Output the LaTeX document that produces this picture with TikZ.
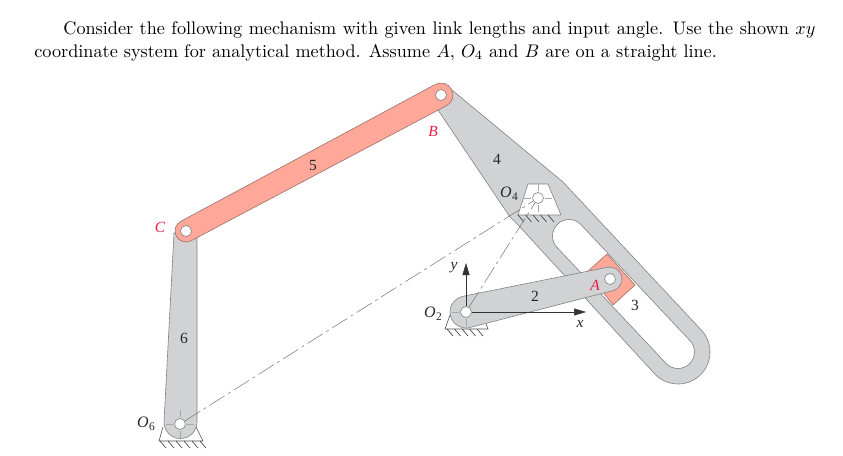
\documentclass[tikz,border=0pt]{standalone}
\usepackage{fontspec}
\newfontfamily\labfont{Liberation Serif}
\usetikzlibrary{calc,arrows.meta}
\definecolor{linkgray}{HTML}{D1D2D4}
\definecolor{edgegray}{HTML}{808285}
\definecolor{linkred}{HTML}{FFA899}
\definecolor{rededge}{HTML}{9A7068}
\definecolor{labred}{HTML}{EE1C44}
\newcommand{\subO}[1]{{\itshape O}\kern0.5pt\raisebox{-3pt}{\fontsize{11.5}{11.5}\selectfont #1}}
\tikzset{
  grayLink/.style={draw=edgegray,fill=linkgray,line width=0.6pt,line join=round},
  redLink/.style={draw=rededge,fill=linkred,line width=0.6pt,line join=round},
  pinHole/.style={circle,draw=edgegray,fill=white,line width=0.6pt,inner sep=0pt,minimum size=#1},
  frameLine/.style={draw=black!70,line width=0.6pt},
  hatchLine/.style={draw=black!80,line width=0.6pt},
  centerMark/.style={draw=edgegray!70,line width=0.5pt},
  centerLine/.style={draw=black!55,line width=0.5pt,dash pattern=on 18pt off 4pt on 3pt off 4pt},
  axisLine/.style={draw=black!80,line width=0.5pt,-{Triangle[length=12pt,width=7pt]}},
  linkNum/.style={font=\labfont\fontsize{15.5}{15.5}\selectfont,text=black!85,inner sep=0pt},
  pinName/.style={font=\labfont\fontsize{16}{16}\selectfont,text=black!85,inner sep=0pt},
  axisName/.style={font=\labfont\itshape\fontsize{15.5}{15.5}\selectfont,text=black!85,inner sep=0pt},
  jointName/.style={font=\labfont\itshape\fontsize{15.5}{15.5}\selectfont,text=labred,inner sep=0pt},
  prose/.style={scale=1.82,inner sep=0pt,anchor=base west}
}
\begin{document}
\begin{tikzpicture}[x=1pt,y=-1pt]
\useasboundingbox (0,0) rectangle (843,455);
% prose
\node[prose] (line1) at (63,34) {\makebox[413.2pt][s]{Consider the following mechanism with given link lengths and input angle. Use the shown $xy$}};
\node[prose] (line2) at (34,57) {coordinate system for analytical method. Assume $A$, $O_4$ and $B$ are on a straight line.};
% centres
\coordinate (O2) at (466,312);
\coordinate (O4) at (538,198);
\coordinate (O6) at (180,424);
\coordinate (A) at (610,279);
\coordinate (B) at (441,95);
\coordinate (C) at (186,231);
\coordinate (slotEnd) at (678,352);
\coordinate (slotTop) at (569,236);
\coordinate (yTip) at (466,263);
\coordinate (xTip) at (586,312);
% ground O6
\draw[frameLine] (163,427) -- (159,441) -- (203,441) -- (196,427);
\foreach \x in {160,168,...,200} \draw[hatchLine] (\x,441) -- (\x+6,448);
% ground O2
\draw[frameLine] (450,315) -- (445,329) -- (488,329) -- (486,324);
\foreach \x in {447,454.5,...,484} \draw[hatchLine] (\x,329) -- (\x+6,336);
% link 6
\draw[grayLink] (174,233) -- (164,422) arc[start angle=180,end angle=0,radius=16.5] -- (197,238) -- cycle;
% link 4 with link 3 slot
\draw[grayLink,even odd rule]
  (438,110) -- (452,90) -- (563,182) -- ($(slotEnd)+(-43.2:32)$)
  arc[start angle=-43.2,end angle=136.8,radius=32]
  -- (520,227) -- (510,217) -- cycle
  ($(slotTop)+(-43.2:16.5)$) -- ($(slotEnd)+(-43.2:16.5)$)
  arc[start angle=-43.2,end angle=136.8,radius=16.5]
  -- ($(slotTop)+(136.8:16.5)$)
  arc[start angle=136.8,end angle=316.8,radius=16.5] -- cycle;
% ground O4
\draw[frameLine,fill=white,draw=edgegray] (528,184) -- (548,184) -- (561,215) -- (518,215) -- cycle;
\foreach \x in {518,525.5,...,555} \draw[hatchLine] (\x,215) -- (\x+6,222);
% slider
\draw[redLink] (607,254) -- (635,285) -- (613,305) -- (587,272) -- cycle;
% link 2
\draw[grayLink] ($(A)+(-101.5:12)$) arc[start angle=-101.5,end angle=75.5,radius=12]
  -- ($(O2)+(75.5:16)$) arc[start angle=75.5,end angle=258.5,radius=16] -- cycle;
% link 5
\draw[redLink] ($(B)+(-118:12)$) arc[start angle=-118,end angle=62,radius=12]
  -- ($(C)+(62:11)$) arc[start angle=62,end angle=242,radius=11] -- cycle;
% centre marks
\foreach \p in {O2,O4,O6}{
  \draw[centerMark] ($(\p)+(7,0)$) -- ($(\p)+(14,0)$);
  \draw[centerMark] ($(\p)+(-7,0)$) -- ($(\p)+(-14,0)$);
  \draw[centerMark] ($(\p)+(0,7)$) -- ($(\p)+(0,14)$);
  \draw[centerMark] ($(\p)+(0,-7)$) -- ($(\p)+(0,-14)$);
}
% pins
\node[pinHole=11pt] (pinO2) at (O2) {};
\node[pinHole=11pt] (pinO4) at (O4) {};
\node[pinHole=11pt] (pinO6) at (O6) {};
\node[pinHole=11pt] (pinA) at (A) {};
\node[pinHole=11pt] (pinB) at (B) {};
\node[pinHole=11pt] (pinC) at (C) {};
% centre lines
\draw[centerLine] (pinO6) -- (pinO4);
\draw[centerLine] (pinO2) -- (pinO4);
% axes
\draw[axisLine] (pinO2) -- (yTip);
\draw[axisLine] (pinO2) -- (xTip);
% labels
\node[linkNum] (n2) at (535,296) {2};
\node[linkNum] (n3) at (635,305) {3};
\node[linkNum] (n4) at (497,159) {4};
\node[linkNum] (n5) at (313,165) {5};
\node[linkNum] (n6) at (184,338) {6};
\node[pinName] (lO2) at (433,314) {\subO{2}};
\node[pinName] (lO4) at (509,194) {\subO{4}};
\node[pinName] (lO6) at (146,424) {\subO{6}};
\node[axisName] (lx) at (580,324) {x};
\node[axisName] (ly) at (454,268) {y};
\node[jointName] (lA) at (595,285) {A};
\node[jointName] (lB) at (433,131) {B};
\node[jointName] (lC) at (160,227) {C};
\end{tikzpicture}
\end{document}
